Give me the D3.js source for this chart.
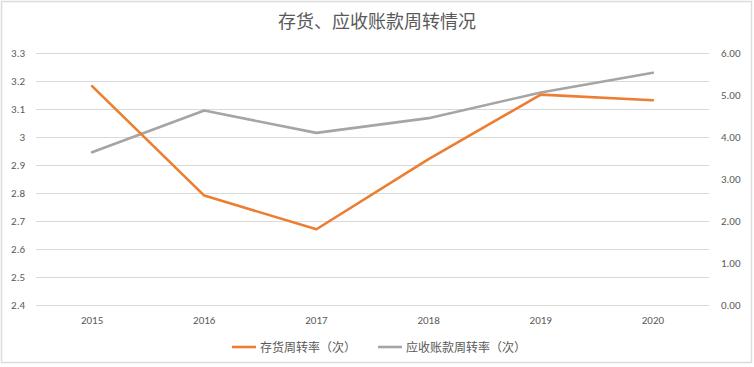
<!DOCTYPE html>
<html><head><meta charset="utf-8">
<script src="https://cdn.jsdelivr.net/npm/d3@7"></script>
<style>html,body{margin:0;padding:0;background:#fff;}svg{display:block;}</style>
</head><body>
<script>
const years = ["2015","2016","2017","2018","2019","2020"];
const inventoryTurnover = [3.18, 2.79, 2.67, 2.92, 3.15, 3.13];
const receivableTurnover = [3.63, 4.62, 4.09, 4.44, 5.05, 5.52];
const leftTicks = [2.4,2.5,2.6,2.7,2.8,2.9,3.0,3.1,3.2,3.3];
const rightTicks = [0,1,2,3,4,5,6];
const seriesNames = ["存货周转率（次）","应收账款周转率（次）"];
const colors = ["#ED7D31","#A5A5A5"];
const title = "存货、应收账款周转情况";

const W=754,H=367;
const font = "'Noto Sans CJK SC', 'Microsoft YaHei', sans-serif";
const svg = d3.select("body").append("svg").attr("width",W).attr("height",H);
svg.append("rect").attr("x",1.5).attr("y",1.5).attr("width",750).attr("height",361)
  .attr("fill","#fff").attr("stroke","#dcdcdc").attr("stroke-width",1.5);

const L=36,R=709,T=52.5,B=305;
const x = d3.scaleBand().domain(years).range([L,R]);
const yL = d3.scaleLinear().domain([2.4,3.3]).range([B,T]);
const yR = d3.scaleLinear().domain([0,6]).range([B,T]);

// gridlines
svg.append("g").selectAll("line").data(leftTicks).join("line")
  .attr("x1",L).attr("x2",R).attr("y1",d=>Math.round(yL(d))+0.5).attr("y2",d=>Math.round(yL(d))+0.5)
  .attr("stroke","#d9d9d9").attr("stroke-width",1);

// left axis
const gl = svg.append("g").attr("transform",`translate(${L-8},0)`)
  .call(d3.axisLeft(yL).tickValues(leftTicks).tickSize(0).tickFormat(d=>d3.format("")(+d.toFixed(1))));
gl.select(".domain").remove();
gl.selectAll("text").attr("font-family","Calibri, 'Liberation Sans', sans-serif").attr("font-size",11).attr("fill","#595959").attr("dx",0);

// right axis
const gr = svg.append("g").attr("transform",`translate(${R+9},0)`)
  .call(d3.axisRight(yR).tickValues(rightTicks).tickSize(0).tickFormat(d3.format(".2f")));
gr.select(".domain").remove();
gr.selectAll("text").attr("font-family","Calibri, 'Liberation Sans', sans-serif").attr("font-size",11).attr("fill","#595959");

// x axis
const gx = svg.append("g").attr("transform",`translate(0,${B+8})`)
  .call(d3.axisBottom(x).tickSize(0));
gx.select(".domain").remove();
gx.selectAll("text").attr("font-family","Calibri, 'Liberation Sans', sans-serif").attr("font-size",11).attr("fill","#595959");

const cx = d=>x(d)+x.bandwidth()/2;
const line1 = d3.line().x((d,i)=>cx(years[i])).y(d=>yL(d));
const line2 = d3.line().x((d,i)=>cx(years[i])).y(d=>yR(d));
svg.append("path").attr("d",line2(receivableTurnover)).attr("fill","none")
  .attr("stroke",colors[1]).attr("stroke-width",2.6).attr("stroke-linejoin","round").attr("stroke-linecap","round");
svg.append("path").attr("d",line1(inventoryTurnover)).attr("fill","none")
  .attr("stroke",colors[0]).attr("stroke-width",2.6).attr("stroke-linejoin","round").attr("stroke-linecap","round");

// title
svg.append("text").attr("x",377).attr("y",28).attr("text-anchor","middle")
  .attr("font-family",font).attr("font-size",18).attr("fill","#595959").text(title);

// legend
const legX=[232,378];
seriesNames.forEach((n,i)=>{
  svg.append("line").attr("x1",legX[i]).attr("x2",legX[i]+24).attr("y1",347).attr("y2",347)
    .attr("stroke",colors[i]).attr("stroke-width",2.6);
  svg.append("text").attr("x",legX[i]+28).attr("y",351.5).attr("font-family",font)
    .attr("font-size",12).attr("fill","#595959").text(n);
});
</script>
</body></html>
